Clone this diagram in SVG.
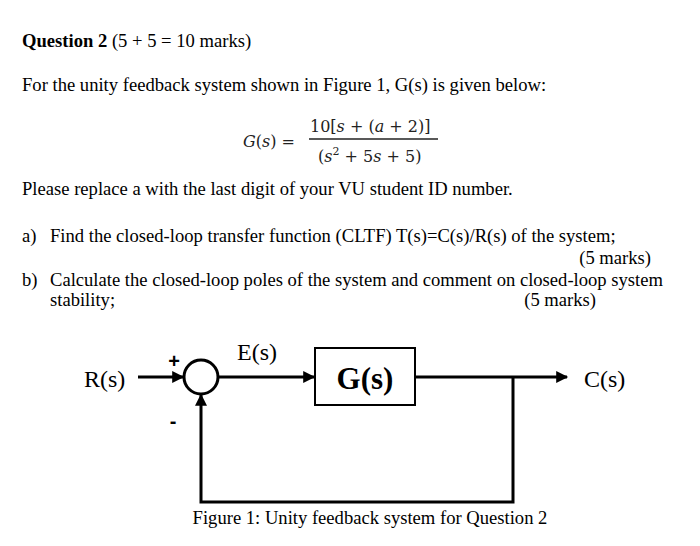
<svg xmlns="http://www.w3.org/2000/svg" width="700" height="546" viewBox="0 0 700 546">
<style>
.t{font-family:"Liberation Serif",serif;font-size:18.6px;fill:#000}
.m{font-family:"DejaVu Serif",serif;font-size:16px;fill:#222}
.i{font-style:italic}
.ln{stroke:#000;stroke-width:3;fill:none}
</style>
<defs><marker id="a" viewBox="0 0 10 10" refX="9" refY="5" markerWidth="5" markerHeight="4" orient="auto" markerUnits="strokeWidth"><path d="M0,0L10,5L0,10z" fill="#000"/></marker></defs>
<rect width="700" height="546" fill="#fff"/>
<text class="t" x="22" y="47"><tspan font-weight="bold">Question 2</tspan> (5 + 5 = 10 marks)</text>
<text class="t" x="22" y="91">For the unity feedback system shown in Figure 1, G(s) is given below:</text>
<text class="m" x="243" y="147"><tspan class="i">G</tspan>(<tspan class="i">s</tspan>) =</text>
<text class="m" x="310" y="132">10[<tspan class="i">s</tspan> + (<tspan class="i">a</tspan> + 2)]</text>
<line x1="309" y1="139" x2="438" y2="139" stroke="#222" stroke-width="1.3"/>
<text class="m" x="318" y="162">(<tspan class="i">s</tspan><tspan style="font-size:11px" dy="-7">2</tspan><tspan dy="7"> + 5</tspan><tspan class="i">s</tspan> + 5)</text>
<text class="t" x="22" y="195">Please replace a with the last digit of your VU student ID number.</text>
<text class="t" x="22" y="242">a)<tspan x="50">Find the closed-loop transfer function (CLTF) T(s)=C(s)/R(s) of the system;</tspan></text>
<text class="t" x="651" y="264" text-anchor="end">(5 marks)</text>
<text class="t" x="22" y="286">b)<tspan x="50">Calculate the closed-loop poles of the system and comment on closed-loop system</tspan></text>
<text class="t" x="50" y="306">stability;</text>
<text class="t" x="596" y="306" text-anchor="end">(5 marks)</text>
<g id="connectors">
<line class="ln" x1="138" y1="377" x2="183" y2="377" marker-end="url(#a)"/>
<line class="ln" x1="218" y1="377" x2="314" y2="377" marker-end="url(#a)"/>
<line class="ln" x1="415" y1="377" x2="567" y2="377" marker-end="url(#a)"/>
<polyline class="ln" points="513,377 513,502 201,502 201,395" marker-end="url(#a)"/>
</g>
<g id="sum"><circle cx="201" cy="377" r="17" fill="#fff" stroke="#000" stroke-width="3"/>
<text x="174" y="368" font-family="Liberation Sans,sans-serif" font-weight="bold" font-size="20" text-anchor="middle">+</text>
<text x="173" y="428" font-family="Liberation Sans,sans-serif" font-weight="bold" font-size="20" text-anchor="middle">-</text></g>
<g id="G"><rect x="315" y="348" width="100" height="57" fill="#fff" stroke="#000" stroke-width="2"/>
<text x="365" y="389" font-family="Liberation Serif,serif" font-weight="bold" font-size="31" text-anchor="middle">G(s)</text></g>
<text class="t" x="84" y="387" style="font-size:24px">R(s)</text>
<text class="t" x="237" y="360" style="font-size:24px">E(s)</text>
<text class="t" x="584" y="387" style="font-size:24px">C(s)</text>
<text class="t" x="370" y="524" text-anchor="middle">Figure 1: Unity feedback system for Question 2</text>
</svg>
